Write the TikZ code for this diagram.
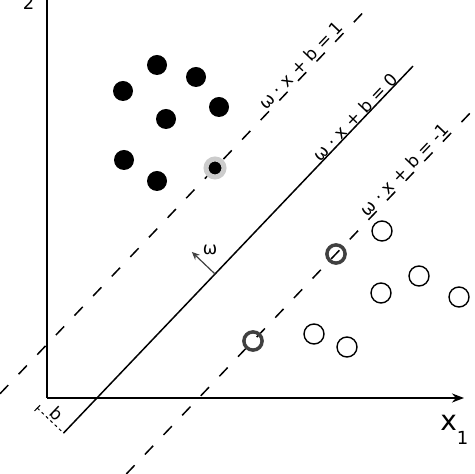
\documentclass[tikz,border=0pt]{standalone}
\usepackage{fontspec}
\setmainfont{DejaVu Sans}
\usetikzlibrary{arrows.meta}
\usetikzlibrary{positioning}

\begin{document}
\begin{tikzpicture}[x=0.5pt,y=0.5pt]
\tikzset{dot/.style={circle,fill=black,inner sep=0pt,minimum size=10pt},
ring/.style={circle,draw=black,line width=0.7pt,inner sep=0pt,minimum size=10pt},
svring/.style={circle,draw=black!75,line width=1.75pt,inner sep=0pt,minimum size=9.1pt},
svdot/.style={circle,fill=black,draw=black!20,line width=2.5pt,inner sep=0pt,minimum size=9pt},
margin/.style={dash pattern=on 6pt off 7.5pt,line width=0.75pt},
eqlabel/.style={font=\fontsize{8.6}{10}\selectfont,rotate=46.4,inner sep=0pt},
axislabel/.style={font=\fontsize{14}{16}\selectfont,inner sep=0pt,anchor=base west}}
\useasboundingbox (0,0) rectangle (474,474);
% axes
\coordinate (o) at (47,76);
\coordinate (xend) at (464,76);
\coordinate (yend) at (47,480);
\draw[line width=1pt,-{Stealth[length=6pt,width=4.5pt]}] (o) -- (xend);
\draw[line width=1pt] (o) -- (yend);
\node[axislabel](xone) at (440,43.5){x\raisebox{-7.25pt}{\fontsize{9}{9}\selectfont 1}};
\node[axislabel](xtwo) at (6,478.5){x\raisebox{-7.25pt}{\fontsize{9}{9}\selectfont 2}};
% hyperplane and margins
\coordinate (h0a) at (63.5,40.9);
\coordinate (h0b) at (413,407.9);
\coordinate (hpa) at (0,80.25);
\coordinate (hpb) at (370,468.75);
\coordinate (hma) at (126.3,0);
\coordinate (hmb) at (472,362.95);
\draw[line width=0.75pt] (h0a) -- (h0b);
\draw[margin] (hpa) -- (hpb);
\draw[margin] (hma) -- (hmb);
\node[eqlabel](lab1) at (300.5,409){ω · x + b = 1};
\node[eqlabel](lab0) at (355,357){ω · x + b = 0};
\node[eqlabel](labm1) at (404,304){ω · x + b = -1};
% normal vector
\path (h0a) -- (h0b) coordinate[pos=0.4335] (wfoot);
\draw[line width=0.6pt,black!75,-{Stealth[length=4pt,width=3.5pt]}] (wfoot) -- ++(136.4:32) coordinate (wtip);
\node[font=\fontsize{8.6}{10}\selectfont,inner sep=0pt](wlab) at (210,224){ω};
% offset b
\coordinate (ba) at (37.3,65.9);
\coordinate (bb) at (63.5,40.9);
\draw[line width=0.5pt,dash pattern=on 1.5pt off 1.5pt] (ba) -- (bb);
\draw[line width=0.5pt] (ba) ++(-2.8,-2.9) -- ++(5.6,5.8);
\node[font=\fontsize{8.6}{10}\selectfont,rotate=-43.6,anchor=south,inner sep=1pt](blab) at (50.4,53.4){b};
% class +1
\node[dot](p1) at (157,409){};
\node[dot](p2) at (196,397){};
\node[dot](p3) at (123,383){};
\node[dot](p4) at (219,367){};
\node[dot](p5) at (166,355){};
\node[dot](p6) at (124,314){};
\node[dot](p7) at (157,293){};
\node[svdot](p8) at (215,306){};
% class -1
\node[ring](n1) at (382,243){};
\node[ring](n2) at (419,198){};
\node[ring](n3) at (381,181){};
\node[ring](n4) at (459,177){};
\node[ring](n5) at (314,140){};
\node[ring](n6) at (347,127){};
\node[svring](n7) at (336,220){};
\node[svring](n8) at (253,133){};
\end{tikzpicture}
\end{document}
